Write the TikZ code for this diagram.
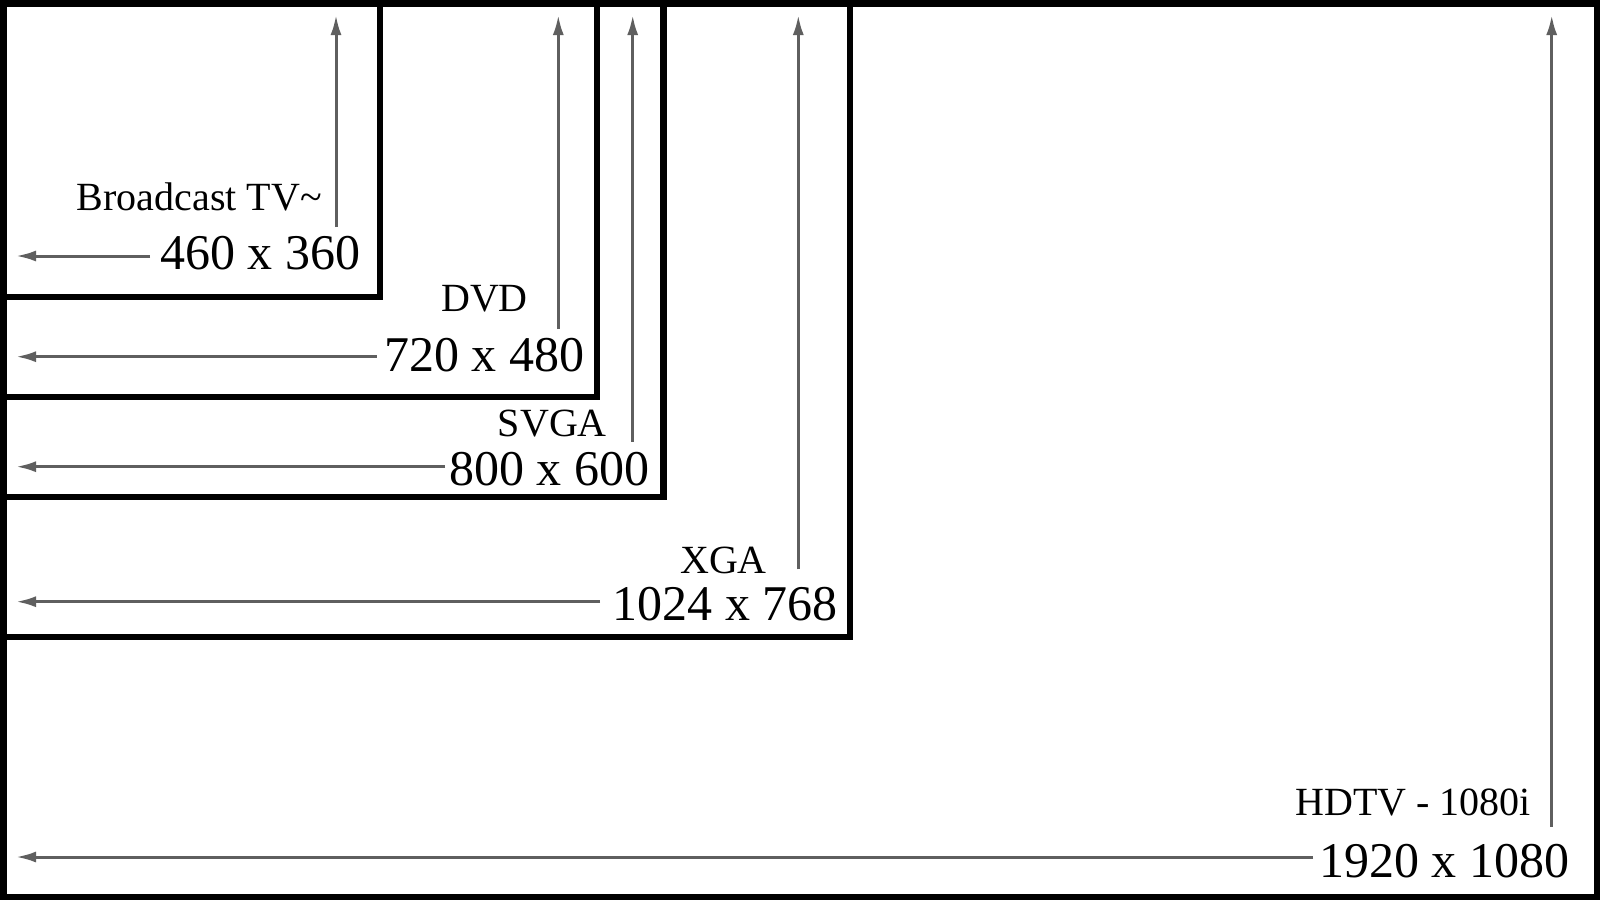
\documentclass[tikz,border=0pt]{standalone}
\usepackage{fontspec}
\setmainfont{Liberation Serif}
\usetikzlibrary{arrows.meta}
\definecolor{arrgray}{RGB}{95,95,95}
\tikzset{
  frame/.style={draw=black,line width=6.5pt},
  arr/.style={draw=arrgray,line width=3pt,-{Latex[length=20pt,width=11pt]}},
  small/.style={anchor=base east,inner sep=0pt,font=\fontsize{40}{48}\selectfont},
  big/.style={anchor=base east,inner sep=0pt,font=\fontsize{50}{60}\selectfont},
}
\begin{document}
\begin{tikzpicture}[x=1pt,y=-1pt]
\useasboundingbox (0,0) rectangle (1600,900);
\fill[white] (0,0) rectangle (1600,900);
% frames
\draw[frame] (3.25,3.25) rectangle (1596.75,896.75);
\draw[frame] (3.25,3.25) rectangle (850.08,636.75);
\draw[frame] (3.25,3.25) rectangle (663.42,496.75);
\draw[frame] (3.25,3.25) rectangle (596.75,396.75);
\draw[frame] (3.25,3.25) rectangle (380.08,296.75);
% labels
\node[small] (l1) at (322,210) {Broadcast TV\textasciitilde};
\node[big]   (n1) at (360.5,269.5) {460 x 360};
\node[small] (l2) at (528,311.7) {DVD};
\node[big]   (n2) at (584.5,371.7) {720 x 480};
\node[small] (l3) at (607,436.7) {SVGA};
\node[big]   (n3) at (649.5,485) {800 x 600};
\node[small] (l4) at (767,573.3) {XGA};
\node[big]   (n4) at (838,620) {1024 x 768};
\node[small] (l5) at (1531,815) {HDTV - 1080i};
\node[big]   (n5) at (1569.5,877.5) {1920 x 1080};
% arrow end points
\coordinate (v1s) at (336,227);    \coordinate (v1e) at (336,15);
\coordinate (h1s) at (150,256);    \coordinate (h1e) at (16,256);
\coordinate (v2s) at (558.3,329);  \coordinate (v2e) at (558.3,15);
\coordinate (h2s) at (376.7,356.7);\coordinate (h2e) at (16,356.7);
\coordinate (v3s) at (632.7,441.7);\coordinate (v3e) at (632.7,15);
\coordinate (h3s) at (445,466.7);  \coordinate (h3e) at (16,466.7);
\coordinate (v4s) at (798.3,569.3);\coordinate (v4e) at (798.3,15);
\coordinate (h4s) at (600,601.7);  \coordinate (h4e) at (16,601.7);
\coordinate (v5s) at (1551.7,826.7);\coordinate (v5e) at (1551.7,15);
\coordinate (h5s) at (1313,857);   \coordinate (h5e) at (16,857);
\foreach \i in {1,...,5}{
  \draw[arr] (v\i s) -- (v\i e);
  \draw[arr] (h\i s) -- (h\i e);
}
\end{tikzpicture}
\end{document}
